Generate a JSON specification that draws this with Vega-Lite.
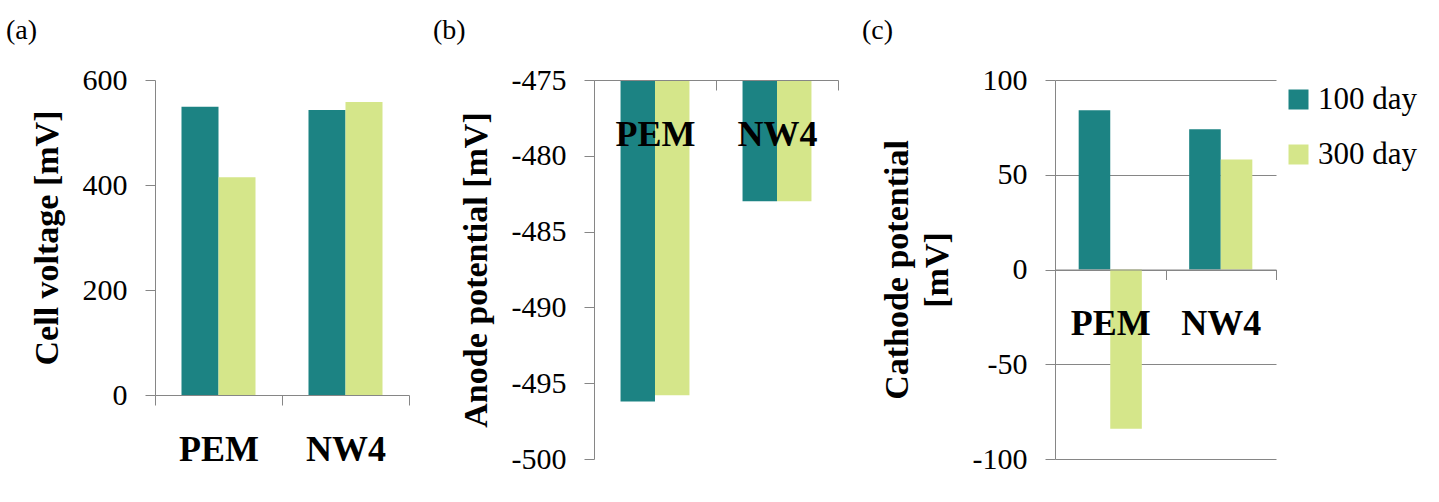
{
  "$schema": "https://vega.github.io/schema/vega-lite/v6.json",
  "background": "white",
  "padding": {"left": 6, "top": 17, "right": 5, "bottom": 5},
  "spacing": 23,
  "config": {
    "font": "Liberation Serif",
    "view": {"stroke": null},
    "axis": {
      "domainColor": "#868686",
      "tickColor": "#868686",
      "gridColor": "#868686",
      "domainWidth": 1,
      "tickWidth": 1,
      "gridWidth": 1,
      "tickSize": 10,
      "labelFont": "Liberation Serif",
      "labelColor": "black",
      "labelFontSize": 30,
      "titleFont": "Liberation Serif",
      "titleColor": "black",
      "titleFontSize": 34,
      "titleFontWeight": "bold"
    },
    "axisX": {
      "labelFontSize": 36,
      "labelFontWeight": "bold",
      "labelAngle": 0,
      "tickBand": "extent",
      "labelBaseline": "alphabetic",
      "labelPadding": 55
    },
    "axisY": {"labelPadding": 18, "titlePadding": 18, "grid": false, "labelExpr": "'' + datum.value"},
    "title": {
      "font": "Liberation Serif",
      "fontSize": 28,
      "fontWeight": "normal",
      "anchor": "start",
      "frame": "group",
      "baseline": "alphabetic",
      "color": "black",
      "offset": 20
    },
    "legend": {
      "symbolType": "square",
      "symbolSize": 400,
      "symbolStrokeWidth": 0,
      "labelFont": "Liberation Serif",
      "labelFontSize": 31,
      "labelColor": "black",
      "labelOffset": 4,
      "rowPadding": 23,
      "padding": 0
    }
  },
  "datasets": {
    "cell": [
      {"membrane": "PEM", "period": "100 day", "value": 549},
      {"membrane": "PEM", "period": "300 day", "value": 415},
      {"membrane": "NW4", "period": "100 day", "value": 543},
      {"membrane": "NW4", "period": "300 day", "value": 558}
    ],
    "anode": [
      {"membrane": "PEM", "period": "100 day", "value": -496.2},
      {"membrane": "PEM", "period": "300 day", "value": -495.8},
      {"membrane": "NW4", "period": "100 day", "value": -483},
      {"membrane": "NW4", "period": "300 day", "value": -483}
    ],
    "cathode": [
      {"membrane": "PEM", "period": "100 day", "value": 84},
      {"membrane": "PEM", "period": "300 day", "value": -84},
      {"membrane": "NW4", "period": "100 day", "value": 74},
      {"membrane": "NW4", "period": "300 day", "value": 58}
    ]
  },
  "resolve": {
    "scale": {"color": "independent", "xOffset": "independent"},
    "legend": {"color": "independent"}
  },
  "hconcat": [
    {
      "width": 254,
      "height": 315,
      "title": {"text": "(a)", "dx": -149},
      "data": {"name": "cell"},
      "mark": "bar",
      "encoding": {
        "x": {"field": "membrane", "type": "nominal", "sort": ["PEM", "NW4"],
              "scale": {"paddingInner": 0, "paddingOuter": 0},
              "axis": {"title": null, "zindex": 1}},
        "xOffset": {"field": "period", "type": "nominal", "sort": ["100 day", "300 day"],
                    "scale": {"paddingInner": 0, "paddingOuter": 0.716}},
        "y": {"field": "value", "type": "quantitative",
              "scale": {"domain": [0, 600]},
              "axis": {"values": [0, 200, 400, 600], "title": "Cell voltage [mV]"}},
        "color": {"field": "period", "type": "nominal",
                  "scale": {"domain": ["100 day", "300 day"], "range": ["#1c8383", "#d5e68a"]},
                  "legend": null}
      }
    },
    {
      "width": 244,
      "height": 379,
      "title": {"text": "(b)", "dx": -161},
      "data": {"name": "anode"},
      "mark": "bar",
      "encoding": {
        "x": {"field": "membrane", "type": "nominal", "sort": ["PEM", "NW4"],
              "scale": {"paddingInner": 0, "paddingOuter": 0},
              "axis": {"title": null, "offset": -379, "zindex": 1}},
        "xOffset": {"field": "period", "type": "nominal", "sort": ["100 day", "300 day"],
                    "scale": {"paddingInner": 0, "paddingOuter": 0.77}},
        "y": {"field": "value", "type": "quantitative",
              "scale": {"domain": [-500, -475]},
              "axis": {"values": [-500, -495, -490, -485, -480, -475], "title": "Anode potential [mV]"}},
        "y2": {"datum": -475},
        "color": {"field": "period", "type": "nominal",
                  "scale": {"domain": ["100 day", "300 day"], "range": ["#1c8383", "#d5e68a"]},
                  "legend": null}
      }
    },
    {
      "width": 221,
      "height": 379,
      "title": {"text": "(c)", "dx": -193},
      "data": {"name": "cathode"},
      "mark": "bar",
      "encoding": {
        "x": {"field": "membrane", "type": "nominal", "sort": ["PEM", "NW4"],
              "scale": {"paddingInner": 0, "paddingOuter": 0},
              "axis": {"title": null, "offset": -189.5, "zindex": 1}},
        "xOffset": {"field": "period", "type": "nominal", "sort": ["100 day", "300 day"],
                    "scale": {"paddingInner": 0, "paddingOuter": 0.75}},
        "y": {"field": "value", "type": "quantitative",
              "scale": {"domain": [-100, 100]},
              "axis": {"values": [-100, -50, 0, 50, 100], "grid": true,
                       "title": ["Cathode potential", "[mV]"], "titleLineHeight": 40}},
        "color": {"field": "period", "type": "nominal",
                  "scale": {"domain": ["100 day", "300 day"], "range": ["#1c8383", "#d5e68a"]},
                  "legend": {"title": null, "orient": "none", "legendX": 228, "legendY": 4}}
      }
    }
  ]
}
